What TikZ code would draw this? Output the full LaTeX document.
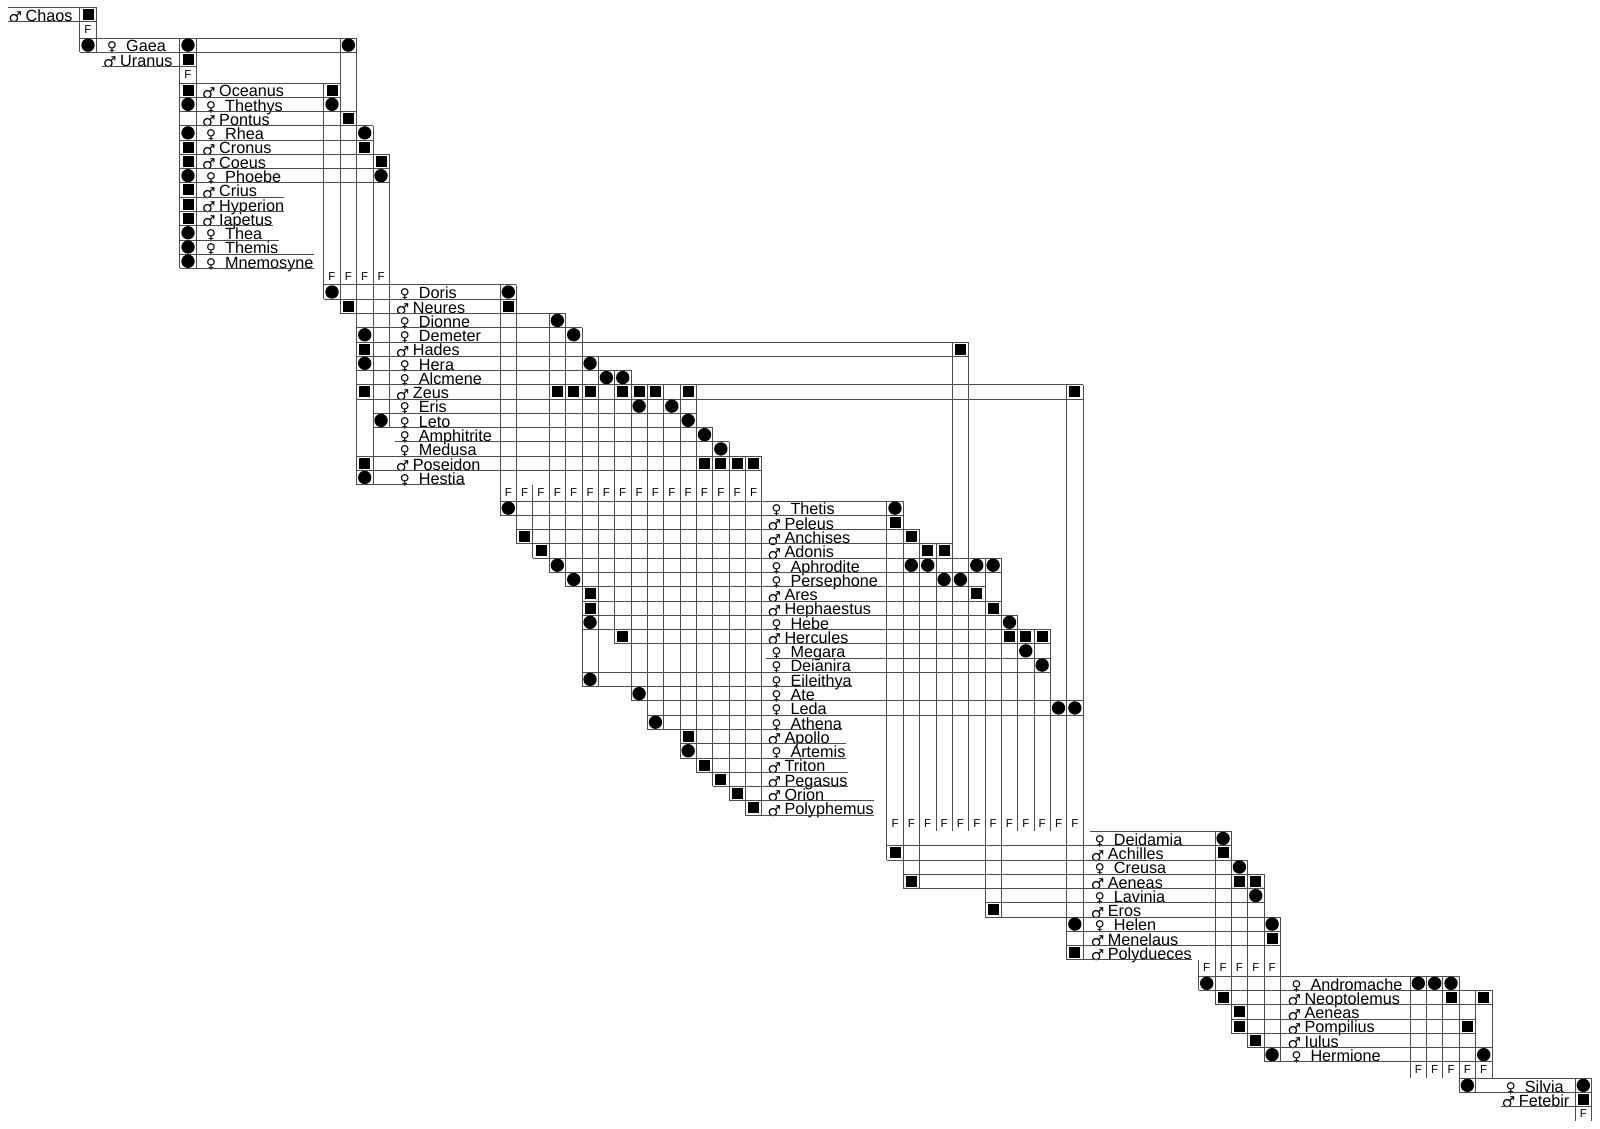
\documentclass[tikz,border=0pt]{standalone}
\usepackage{fontspec}
\setmainfont{Liberation Sans}
\newfontfamily\signs{DejaVu Sans}
\tikzset{rowln/.style={draw=black!70, line width=0.75pt}}
\tikzset{colln/.style={draw=black!70, line width=0.75pt}}
\tikzset{who/.style={anchor=base west, inner sep=0pt, font=\fontsize{16.2}{18}\selectfont}}
\tikzset{fcell/.style={inner sep=0pt, font=\fontsize{11.5}{12}\selectfont}}
\tikzset{she/.style={circle, fill=black, inner sep=0pt, minimum size=13.4pt}}
\tikzset{he/.style={rectangle, fill=black, inner sep=0pt, minimum size=11pt}}
\newcommand\symhe{\hspace*{1pt}\makebox[17pt][l]{\raisebox{-1.5pt}{\signs\fontsize{15}{15}\selectfont ♂}}}
\newcommand\symshe{\hspace*{5pt}\makebox[19pt][l]{\signs\fontsize{13.5}{13}\selectfont ♀}}
\def\hw{8.175}
\newcommand\person[6]{
		\node[who] (p#1) at (#4,{rt(#1+1)-0.3}) {\csname sym#2\endcsname #3};
		\pgfmathtruncatemacro\rn{#1+1}
		\draw[rowln] ({#5},{rt(#1)}) -- ({#6},{rt(#1)}) ({#5},{rt(#1)}) -- (p#1.east |- t#1)
			({#5},{rt(#1+1)}) -- ({#6},{rt(#1+1)}) ({#5},{rt(#1+1)}) -- (p#1.east |- t\rn);
		}
\newcommand\brood[6]{
		\draw[colln] ({cx(#1,#2)-\hw},{rt(#3)}) -- ({cx(#1,#2)-\hw},{rt(#5+1)})
			({cx(#1,#2)+\hw},{rt(#3)}) -- ({cx(#1,#2)+\hw},{rt(#5+1)});
		\node[fcell] (F#1-#2) at ({cx(#1,#2)},{(rt(#4)+rt(#4+1))/2}) {F};
		\foreach \rw/\sx in {#6} {\node[\sx] (m#1-#2-\rw) at ({cx(#1,#2)},{(rt(\rw)+rt(\rw+1))/2}) {};}
		}
\begin{document}
\begin{tikzpicture}[x=1pt, y=-1pt, declare function={
		rt(\r)=7.3+14.27*\r+2.13*((\r>1)+(\r>4)+(\r>18)+(\r>33)+(\r>56)+(\r>66)+(\r>73));
		cx(\b,\k)=88*(\b==0)+188*(\b==1)+332*(\b==2)+508.3*(\b==3)+895*(\b==4)+1206.7*(\b==5)+1418.3*(\b==6)+1583.3*(\b==7)+16.35*\k;}]
	\useasboundingbox (0,0) rectangle (1600,1128);
	\foreach \rw in {0,...,77} \coordinate (t\rw) at (0,{rt(\rw)});
	% generation 0 and 1
	\person{0}{he}{Chaos}{7.5}{7.5}{cx(0,0)+\hw}
	\person{2}{she}{Gaea}{102}{cx(0,0)-\hw}{cx(2,1)+\hw}
	\person{3}{he}{Uranus}{102}{102}{cx(1,0)+\hw}
	% generation 2
	\person{5}{he}{Oceanus}{201}{cx(1,0)-\hw}{cx(2,0)+\hw}
	\person{6}{she}{Thethys}{201}{cx(1,0)-\hw}{cx(2,0)+\hw}
	\person{7}{he}{Pontus}{201}{201}{cx(2,1)+\hw}
	\person{8}{she}{Rhea}{201}{cx(1,0)-\hw}{cx(2,2)+\hw}
	\person{9}{he}{Cronus}{201}{cx(1,0)-\hw}{cx(2,2)+\hw}
	\person{10}{he}{Coeus}{201}{cx(1,0)-\hw}{cx(2,3)+\hw}
	\person{11}{she}{Phoebe}{201}{cx(1,0)-\hw}{cx(2,3)+\hw}
	\person{12}{he}{Crius}{201}{cx(1,0)-\hw}{cx(1,0)-\hw}
	\person{13}{he}{Hyperion}{201}{cx(1,0)-\hw}{cx(1,0)-\hw}
	\person{14}{he}{Iapetus}{201}{cx(1,0)-\hw}{cx(1,0)-\hw}
	\person{15}{she}{Thea}{201}{cx(1,0)-\hw}{cx(1,0)-\hw}
	\person{16}{she}{Themis}{201}{cx(1,0)-\hw}{cx(1,0)-\hw}
	\person{17}{she}{Mnemosyne}{201}{cx(1,0)-\hw}{cx(1,0)-\hw}
	% generation 3
	\person{19}{she}{Doris}{394.7}{cx(2,0)-\hw}{cx(3,0)+\hw}
	\person{20}{he}{Neures}{394.7}{cx(2,1)-\hw}{cx(3,0)+\hw}
	\person{21}{she}{Dionne}{394.7}{394.7}{cx(3,3)+\hw}
	\person{22}{she}{Demeter}{394.7}{cx(2,2)-\hw}{cx(3,4)+\hw}
	\person{23}{he}{Hades}{394.7}{cx(2,2)-\hw}{cx(4,4)+\hw}
	\person{24}{she}{Hera}{394.7}{cx(2,2)-\hw}{cx(3,5)+\hw}
	\person{25}{she}{Alcmene}{394.7}{394.7}{cx(3,7)+\hw}
	\person{26}{he}{Zeus}{394.7}{cx(2,2)-\hw}{cx(4,11)+\hw}
	\person{27}{she}{Eris}{394.7}{394.7}{cx(3,10)+\hw}
	\person{28}{she}{Leto}{394.7}{cx(2,3)-\hw}{cx(3,11)+\hw}
	\person{29}{she}{Amphitrite}{394.7}{394.7}{cx(3,12)+\hw}
	\person{30}{she}{Medusa}{394.7}{394.7}{cx(3,13)+\hw}
	\person{31}{he}{Poseidon}{394.7}{cx(2,2)-\hw}{cx(3,15)+\hw}
	\person{32}{she}{Hestia}{394.7}{cx(2,2)-\hw}{cx(2,2)-\hw}
	% generation 4
	\person{34}{she}{Thetis}{766.3}{cx(3,0)-\hw}{cx(4,0)+\hw}
	\person{35}{he}{Peleus}{766.3}{766.3}{cx(4,0)+\hw}
	\person{36}{he}{Anchises}{766.3}{cx(3,1)-\hw}{cx(4,1)+\hw}
	\person{37}{he}{Adonis}{766.3}{cx(3,2)-\hw}{cx(4,3)+\hw}
	\person{38}{she}{Aphrodite}{766.3}{cx(3,3)-\hw}{cx(4,6)+\hw}
	\person{39}{she}{Persephone}{766.3}{cx(3,4)-\hw}{cx(4,4)+\hw}
	\person{40}{he}{Ares}{766.3}{cx(3,5)-\hw}{cx(4,5)+\hw}
	\person{41}{he}{Hephaestus}{766.3}{cx(3,5)-\hw}{cx(4,6)+\hw}
	\person{42}{she}{Hebe}{766.3}{cx(3,5)-\hw}{cx(4,7)+\hw}
	\person{43}{he}{Hercules}{766.3}{cx(3,7)-\hw}{cx(4,9)+\hw}
	\person{44}{she}{Megara}{766.3}{766.3}{cx(4,8)+\hw}
	\person{45}{she}{Deianira}{766.3}{766.3}{cx(4,9)+\hw}
	\person{46}{she}{Eileithya}{766.3}{cx(3,5)-\hw}{cx(3,5)-\hw}
	\person{47}{she}{Ate}{766.3}{cx(3,8)-\hw}{cx(3,8)-\hw}
	\person{48}{she}{Leda}{766.3}{766.3}{cx(4,11)+\hw}
	\person{49}{she}{Athena}{766.3}{cx(3,9)-\hw}{cx(3,9)-\hw}
	\person{50}{he}{Apollo}{766.3}{cx(3,11)-\hw}{cx(3,11)-\hw}
	\person{51}{she}{Artemis}{766.3}{cx(3,11)-\hw}{cx(3,11)-\hw}
	\person{52}{he}{Triton}{766.3}{cx(3,12)-\hw}{cx(3,12)-\hw}
	\person{53}{he}{Pegasus}{766.3}{cx(3,13)-\hw}{cx(3,13)-\hw}
	\person{54}{he}{Orion}{766.3}{cx(3,14)-\hw}{cx(3,14)-\hw}
	\person{55}{he}{Polyphemus}{766.3}{cx(3,15)-\hw}{cx(3,15)-\hw}
	% generation 5
	\person{57}{she}{Deidamia}{1089.7}{1089.7}{cx(5,1)+\hw}
	\person{58}{he}{Achilles}{1089.7}{cx(4,0)-\hw}{cx(5,1)+\hw}
	\person{59}{she}{Creusa}{1089.7}{1089.7}{cx(5,2)+\hw}
	\person{60}{he}{Aeneas}{1089.7}{cx(4,1)-\hw}{cx(5,3)+\hw}
	\person{61}{she}{Lavinia}{1089.7}{1089.7}{cx(5,3)+\hw}
	\person{62}{he}{Eros}{1089.7}{cx(4,6)-\hw}{cx(4,6)-\hw}
	\person{63}{she}{Helen}{1089.7}{cx(4,11)-\hw}{cx(5,4)+\hw}
	\person{64}{he}{Menelaus}{1089.7}{1089.7}{cx(5,4)+\hw}
	\person{65}{he}{Polydueces}{1089.7}{cx(4,11)-\hw}{cx(4,11)-\hw}
	% generation 6
	\person{67}{she}{Andromache}{1286.3}{cx(5,0)-\hw}{cx(6,2)+\hw}
	\person{68}{he}{Neoptolemus}{1286.3}{cx(5,1)-\hw}{cx(6,4)+\hw}
	\person{69}{he}{Aeneas}{1286.3}{cx(5,2)-\hw}{cx(5,2)-\hw}
	\person{70}{he}{Pompilius}{1286.3}{cx(5,2)-\hw}{cx(6,3)+\hw}
	\person{71}{he}{Iulus}{1286.3}{cx(5,3)-\hw}{cx(5,3)-\hw}
	\person{72}{she}{Hermione}{1286.3}{cx(5,4)-\hw}{cx(6,4)+\hw}
	% generation 7
	\person{74}{she}{Silvia}{1500.7}{cx(6,3)-\hw}{cx(7,0)+\hw}
	\person{75}{he}{Fetebir}{1500.7}{1500.7}{cx(7,0)+\hw}
	% family columns: block, index, top row, F row, last row, marks
	\brood{0}{0}{0}{1}{2}{0/he, 2/she}
	\brood{1}{0}{2}{4}{17}{2/she, 3/he, 5/he, 6/she, 8/she, 9/he, 10/he, 11/she, 12/he, 13/he, 14/he, 15/she, 16/she, 17/she}
	\brood{2}{0}{5}{18}{19}{5/he, 6/she, 19/she}
	\brood{2}{1}{2}{18}{20}{2/she, 7/he, 20/he}
	\brood{2}{2}{8}{18}{32}{8/she, 9/he, 22/she, 23/he, 24/she, 26/he, 31/he, 32/she}
	\brood{2}{3}{10}{18}{28}{10/he, 11/she, 28/she}
	\brood{3}{0}{19}{33}{34}{19/she, 20/he, 34/she}
	\brood{3}{1}{33}{33}{36}{36/he}
	\brood{3}{2}{33}{33}{37}{37/he}
	\brood{3}{3}{21}{33}{38}{21/she, 26/he, 38/she}
	\brood{3}{4}{22}{33}{39}{22/she, 26/he, 39/she}
	\brood{3}{5}{24}{33}{46}{24/she, 26/he, 40/he, 41/he, 42/she, 46/she}
	\brood{3}{6}{25}{33}{33}{25/she}
	\brood{3}{7}{25}{33}{43}{25/she, 26/he, 43/he}
	\brood{3}{8}{26}{33}{47}{26/he, 27/she, 47/she}
	\brood{3}{9}{26}{33}{49}{26/he, 49/she}
	\brood{3}{10}{27}{33}{33}{27/she}
	\brood{3}{11}{26}{33}{51}{26/he, 28/she, 50/he, 51/she}
	\brood{3}{12}{29}{33}{52}{29/she, 31/he, 52/he}
	\brood{3}{13}{30}{33}{53}{30/she, 31/he, 53/he}
	\brood{3}{14}{31}{33}{54}{31/he, 54/he}
	\brood{3}{15}{31}{33}{55}{31/he, 55/he}
	\brood{4}{0}{34}{56}{58}{34/she, 35/he, 58/he}
	\brood{4}{1}{36}{56}{60}{36/he, 38/she, 60/he}
	\brood{4}{2}{37}{56}{56}{37/he, 38/she}
	\brood{4}{3}{37}{56}{56}{37/he, 39/she}
	\brood{4}{4}{23}{56}{56}{23/he, 39/she}
	\brood{4}{5}{38}{56}{56}{38/she, 40/he}
	\brood{4}{6}{38}{56}{62}{38/she, 41/he, 62/he}
	\brood{4}{7}{42}{56}{56}{42/she, 43/he}
	\brood{4}{8}{43}{56}{56}{43/he, 44/she}
	\brood{4}{9}{43}{56}{56}{43/he, 45/she}
	\brood{4}{10}{48}{56}{56}{48/she}
	\brood{4}{11}{26}{56}{65}{26/he, 48/she, 63/she, 65/he}
	\brood{5}{0}{66}{66}{67}{67/she}
	\brood{5}{1}{57}{66}{68}{57/she, 58/he, 68/he}
	\brood{5}{2}{59}{66}{70}{59/she, 60/he, 69/he, 70/he}
	\brood{5}{3}{60}{66}{71}{60/he, 61/she, 71/he}
	\brood{5}{4}{63}{66}{72}{63/she, 64/he, 72/she}
	\brood{6}{0}{67}{73}{73}{67/she}
	\brood{6}{1}{67}{73}{73}{67/she}
	\brood{6}{2}{67}{73}{73}{67/she, 68/he}
	\brood{6}{3}{70}{73}{74}{70/he, 74/she}
	\brood{6}{4}{68}{73}{73}{68/he, 72/she}
	\brood{7}{0}{74}{76}{76}{74/she, 75/he}
\end{tikzpicture}
\end{document}
